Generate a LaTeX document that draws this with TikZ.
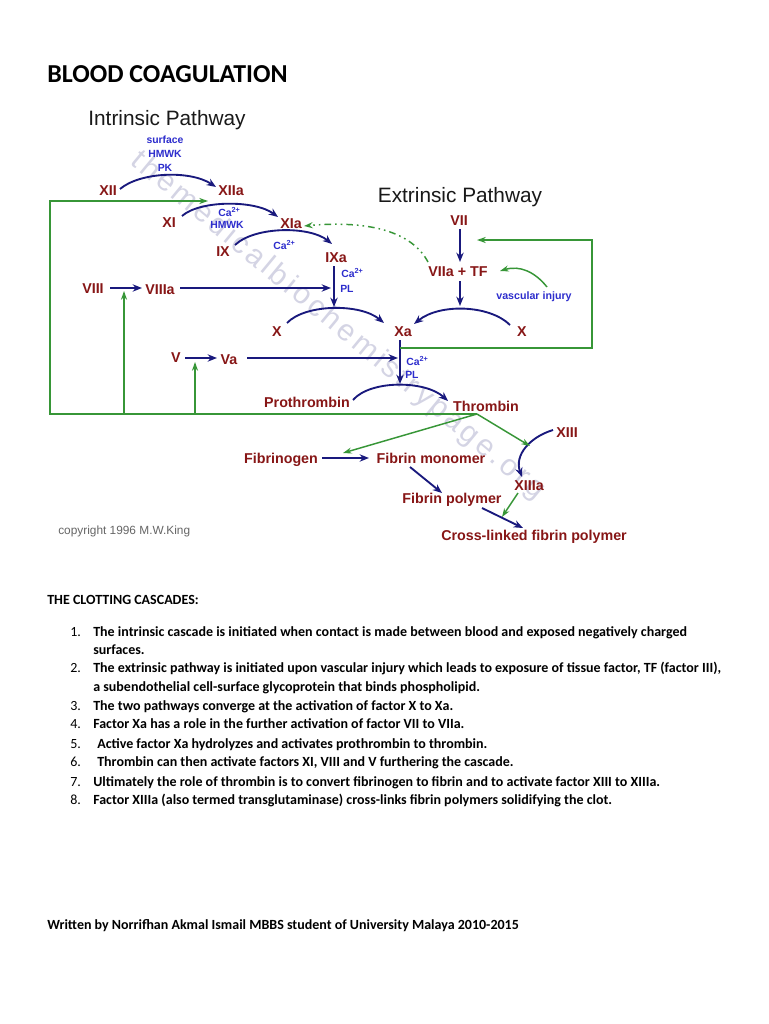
\documentclass[tikz,border=0pt]{standalone}
\usepackage{fontspec}
\setmainfont{Carlito}
\newfontfamily\arialf{Liberation Sans}
\newfontfamily\wmfont[LetterSpace=11]{Liberation Sans}
\usetikzlibrary{arrows.meta}
\definecolor{fred}{RGB}{135,22,22}
\definecolor{navy}{RGB}{25,25,125}
\definecolor{lblue}{RGB}{45,45,205}
\definecolor{grn}{RGB}{55,150,55}
\definecolor{wmc}{RGB}{212,212,228}
\begin{document}
\begin{tikzpicture}[x=0.75pt,y=-0.75pt,
 fac/.style={font=\arialf\bfseries\fontsize{10.7}{12}\selectfont, text=fred, inner sep=0pt, anchor=base},
 lab/.style={font=\arialf\bfseries\fontsize{7.8}{9}\selectfont, text=lblue, inner sep=0pt, anchor=base},
 head/.style={font=\arialf\fontsize{15.6}{18}\selectfont, text=black!90, inner sep=0pt, anchor=base},
 bar/.style={draw=navy, line width=1.4pt, -{Stealth[length=7pt,width=5.5pt]}},
 gbar/.style={draw=grn, line width=1.1pt, -{Stealth[length=6.5pt,width=4.5pt]}},
 gline/.style={draw=grn, line width=1.1pt},
 body/.style={font=\bfseries\fontsize{10.5}{12}\selectfont, anchor=base west, inner sep=0pt},
 num/.style={font=\fontsize{10.5}{12}\selectfont, anchor=base west, inner sep=0pt},
]
\useasboundingbox (0,0) rectangle (768,1024);
\fill[white] (0,0) rectangle (768,1024);

% watermark
\node[font=\wmfont\fontsize{22.5}{24}\selectfont, text=wmc, rotate=-39.6, inner sep=0pt] (wm) at (338,326) {themedicalbiochemistrypage.org};

% titles
\node[anchor=base west, font=\bfseries\fontsize{19.4}{22}\selectfont, inner sep=0pt] (title) at (47,83) {BLOOD COAGULATION};
\node[head] (intr) at (167,125) {Intrinsic Pathway};
\node[head] (extr) at (460,202) {Extrinsic Pathway};

% small blue labels
\node[lab] (l1) at (165,143) {surface};
\node[lab] (l2) at (165,157) {HMWK};
\node[lab] (l3) at (165,171) {PK};
\node[lab, anchor=base west] (ca1) at (218,216) {Ca\textsuperscript{2+}};
\node[lab] (l4) at (227,228) {HMWK};
\node[lab, anchor=base west] (ca2) at (273,249) {Ca\textsuperscript{2+}};
\node[lab, anchor=base west] (ca3) at (341,277) {Ca\textsuperscript{2+}};
\node[lab, anchor=base west] (pl1) at (340,292) {PL};
\node[lab, anchor=base west] (ca4) at (406,365) {Ca\textsuperscript{2+}};
\node[lab, anchor=base west] (pl2) at (405,378) {PL};
\node[lab, font=\arialf\bfseries\fontsize{8}{9}\selectfont] (vi) at (534,299) {vascular injury};

% factors
\node[fac] (XII) at (108,195) {XII};
\node[fac] (XIIa) at (231,195) {XIIa};
\node[fac] (XI) at (169,227) {XI};
\node[fac] (XIa) at (291,228) {XIa};
\node[fac] (IX) at (223,256) {IX};
\node[fac] (IXa) at (336,262) {IXa};
\node[fac] (VII) at (459,225) {VII};
\node[fac] (VIIaTF) at (458,276) {VIIa + TF};
\node[fac] (VIII) at (93,293) {VIII};
\node[fac] (VIIIa) at (160,294) {VIIIa};
\node[fac] (Xl) at (277,336) {X};
\node[fac] (Xa) at (403,336) {Xa};
\node[fac] (Xr) at (522,336) {X};
\node[fac] (V) at (176,362) {V};
\node[fac] (Va) at (229,364) {Va};
\node[fac] (Pro) at (307,407) {Prothrombin};
\node[fac] (Thr) at (486,411) {Thrombin};
\node[fac] (XIII) at (567,437) {XIII};
\node[fac] (Fgen) at (281,463) {Fibrinogen};
\node[fac] (Fmon) at (431,463) {Fibrin monomer};
\node[fac] (Fpol) at (452,503) {Fibrin polymer};
\node[fac] (XIIIa) at (529,490) {XIIIa};
\node[fac] (Cross) at (534,540) {Cross-linked fibrin polymer};

\node[font=\arialf\fontsize{8.9}{10}\selectfont, text=black!60, anchor=base west, inner sep=0pt] (copy) at (58,534) {copyright 1996 M.W.King};

% coordinates for connectors
\coordinate (xiiS) at (120,189); \coordinate (xiiE) at (216,187);
\coordinate (xiS) at (182,216); \coordinate (xiE) at (278,217);
\coordinate (ixS) at (235,245); \coordinate (ixE) at (332,244);
\coordinate (xlS) at (287,323); \coordinate (xlE) at (384,323); \coordinate (xlP) at (334,307);
\coordinate (xrS) at (510,325); \coordinate (xrE) at (414,324); \coordinate (xrP) at (460,306);
\coordinate (proS) at (353,400); \coordinate (proE) at (448,401); \coordinate (proP) at (400,384);
\coordinate (thrJ) at (477,414);
\coordinate (gTL) at (50,201); \coordinate (gBL) at (50,414);
\coordinate (gTip) at (208,201);
\coordinate (g8B) at (124,414); \coordinate (g8T) at (124,291);
\coordinate (g5B) at (195,414); \coordinate (g5T) at (195,362);
\coordinate (gXa) at (400,348); \coordinate (gR1) at (592,348); \coordinate (gR2) at (592,240); \coordinate (gRtip) at (477,240);
\coordinate (viS) at (547,287); \coordinate (viE) at (500,271);
\coordinate (dS) at (428,262); \coordinate (dE) at (304,226);

% blue connectors
\draw[bar] (xiiS) .. controls (140,172) and (190,170) .. (xiiE);
\draw[bar] (xiS) .. controls (200,200) and (255,200) .. (xiE);
\draw[bar] (ixS) .. controls (255,226) and (310,226) .. (ixE);
\draw[bar] (460,229) -- (460,262);
\draw[bar] (460,281) -- (xrP);
\draw[bar] (334,266) -- (xlP);
\draw[bar] (110,288) -- (142,288);
\draw[bar] (180,288) -- (331,288);
\draw[bar] (xlS) .. controls (305,304) and (360,303) .. (xlE);
\draw[bar] (xrS) .. controls (490,305) and (440,303) .. (xrE);
\draw[bar] (185,358) -- (217,358);
\draw[bar] (247,358) -- (398,358);
\draw[bar] (400,340) -- (proP);
\draw[bar] (proS) .. controls (370,380) and (425,380) .. (proE);
\draw[bar] (553,430) .. controls (530,437) and (514,455) .. (522,477);
\draw[bar] (322,458) -- (369,458);
\draw[bar] (410,467) -- (442,493);
\draw[bar] (482,508) -- (523,528);

% green connectors
\draw[gbar] (thrJ) -- (gBL) -- (gTL) -- (gTip);
\draw[gbar] (g8B) -- (g8T);
\draw[gbar] (g5B) -- (g5T);
\draw[gbar] (gXa) -- (gR1) -- (gR2) -- (gRtip);
\draw[gbar] (thrJ) -- (343,453);
\draw[gbar] (thrJ) -- (530,446);
\draw[gbar] (518,493) -- (502,517);
\draw[gbar] (viS) .. controls (535,272) and (520,265) .. (viE);
\draw[gbar, dash pattern=on 5pt off 3pt on 1.2pt off 3pt on 1.2pt off 3pt] (dS) .. controls (412,232) and (370,220) .. (dE);

% text section
\node[body] (cc) at (47,604) {THE CLOTTING CASCADES:};
\node[num] (n1) at (70,636) {1.};
\node[body] (t1a) at (93,636) {The intrinsic cascade is initiated when contact is made between blood and exposed negatively charged};
\node[body] (t1b) at (93,654) {surfaces.};
\node[num] (n2) at (70,672) {2.};
\node[body] (t2a) at (93,672) {The extrinsic pathway is initiated upon vascular injury which leads to exposure of tissue factor, TF (factor III),};
\node[body] (t2b) at (93,691) {a subendothelial cell-surface glycoprotein that binds phospholipid.};
\node[num] (n3) at (70,710) {3.};
\node[body] (t3) at (93,710) {The two pathways converge at the activation of factor X to Xa.};
\node[num] (n4) at (70,728) {4.};
\node[body] (t4) at (93,728) {Factor Xa has a role in the further activation of factor VII to VIIa.};
\node[num] (n5) at (70,748) {5.};
\node[body] (t5) at (97,748) {Active factor Xa hydrolyzes and activates prothrombin to thrombin.};
\node[num] (n6) at (70,766) {6.};
\node[body] (t6) at (97,766) {Thrombin can then activate factors XI, VIII and V furthering the cascade.};
\node[num] (n7) at (70,786) {7.};
\node[body] (t7) at (93,786) {Ultimately the role of thrombin is to convert fibrinogen to fibrin and to activate factor XIII to XIIIa.};
\node[num] (n8) at (70,804) {8.};
\node[body] (t8) at (93,804) {Factor XIIIa (also termed transglutaminase) cross-links fibrin polymers solidifying the clot.};
\node[body] (wr) at (47,929) {Written by Norrifhan Akmal Ismail MBBS student of University Malaya 2010-2015};
\end{tikzpicture}
\end{document}
